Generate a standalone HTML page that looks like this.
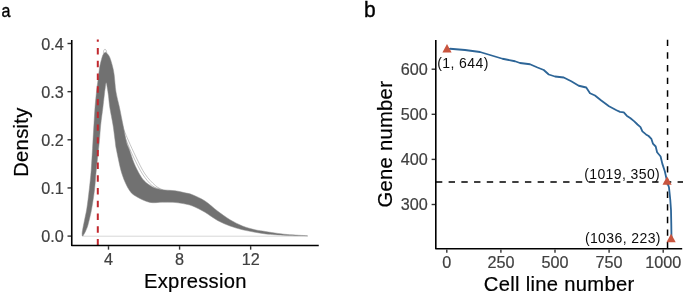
<!DOCTYPE html>
<html><head><meta charset="utf-8"><title>Figure</title>
<style>
html,body{margin:0;padding:0;background:#fff;}
svg{display:block;}
text{font-family:"Liberation Sans",sans-serif;}
.tk{font-size:16.2px;fill:#404040;stroke:#404040;stroke-width:0.2px;}
.ti{font-size:20.2px;fill:#000;letter-spacing:0.3px;stroke:#000;stroke-width:0.2px;}
.an{font-size:14px;fill:#0d0d0d;letter-spacing:0.4px;}
</style></head><body>
<svg width="685" height="296" viewBox="0 0 685 296">
<rect width="685" height="296" fill="#fff"/>
<!-- panel a -->
<text transform="translate(1.6,16.6) scale(0.87,1.03)" font-size="18.5" fill="#000" stroke="#000" stroke-width="0.35">a</text>
<line x1="82.6" y1="236.2" x2="308" y2="236.2" stroke="#c6c6c6" stroke-width="0.7"/>
<g fill="none" stroke="#8a8a8a" stroke-width="0.5">
<path d="M119.00,118.00C119.58,120.00 121.25,126.17 122.50,130.00C123.75,133.83 124.67,136.50 126.50,141.00C128.33,145.50 130.83,151.50 133.50,157.00C136.17,162.50 139.42,169.25 142.50,174.00C145.58,178.75 149.08,183.00 152.00,185.50C154.92,188.00 158.67,188.42 160.00,189.00"/><path d="M120.00,118.00C120.67,120.00 122.57,126.17 124.00,130.00C125.43,133.83 126.60,136.50 128.60,141.00C130.60,145.50 133.27,151.50 136.00,157.00C138.73,162.50 141.78,169.25 145.00,174.00C148.22,178.75 152.30,182.83 155.30,185.50C158.30,188.17 161.72,189.25 163.00,190.00"/><path d="M103.30,53.50C103.38,53.00 103.55,51.20 103.80,50.50C104.05,49.80 104.43,49.38 104.80,49.30C105.17,49.22 105.67,49.38 106.00,50.00C106.33,50.62 106.67,52.50 106.80,53.00"/>
</g>
<path d="M82.30,236.00C82.27,235.58 82.05,234.50 82.10,233.50C82.15,232.50 82.38,231.32 82.60,230.00C82.82,228.68 82.97,227.80 83.40,225.60C83.83,223.40 84.62,219.73 85.20,216.80C85.78,213.87 86.23,212.47 86.90,208.00C87.57,203.53 88.48,196.33 89.20,190.00C89.92,183.67 90.58,178.00 91.20,170.00C91.82,162.00 92.45,149.50 92.90,142.00C93.35,134.50 93.55,130.75 93.90,125.00C94.25,119.25 94.53,113.33 95.00,107.50C95.47,101.67 96.20,94.58 96.70,90.00C97.20,85.42 97.62,83.00 98.00,80.00C98.38,77.00 98.70,74.28 99.00,72.00C99.30,69.72 99.30,68.72 99.80,66.30C100.30,63.88 101.38,59.55 102.00,57.50C102.62,55.45 102.93,54.87 103.50,54.00C104.07,53.13 104.73,52.30 105.40,52.30C106.07,52.30 106.77,53.13 107.50,54.00C108.23,54.87 108.97,55.45 109.80,57.50C110.63,59.55 111.77,63.38 112.50,66.30C113.23,69.22 113.62,70.72 114.20,75.00C114.78,79.28 115.12,86.58 116.00,92.00C116.88,97.42 118.33,102.00 119.50,107.50C120.67,113.00 121.83,119.25 123.00,125.00C124.17,130.75 125.42,137.83 126.50,142.00C127.58,146.17 128.25,146.50 129.50,150.00C130.75,153.50 132.25,158.83 134.00,163.00C135.75,167.17 138.00,171.75 140.00,175.00C142.00,178.25 143.50,180.33 146.00,182.50C148.50,184.67 151.83,186.75 155.00,188.00C158.17,189.25 161.67,189.55 165.00,190.00C168.33,190.45 171.83,190.27 175.00,190.70C178.17,191.13 181.08,191.92 184.00,192.60C186.92,193.28 189.00,193.35 192.50,194.75C196.00,196.15 200.83,198.29 205.00,201.00C209.17,203.71 213.33,207.88 217.50,211.00C221.67,214.12 225.83,217.25 230.00,219.75C234.17,222.25 238.33,224.33 242.50,226.00C246.67,227.67 251.67,228.92 255.00,229.75C258.33,230.58 259.17,230.46 262.50,231.00C265.83,231.54 270.83,232.42 275.00,233.00C279.17,233.58 282.08,234.04 287.50,234.50C292.92,234.96 304.17,235.54 307.50,235.75L307.50,235.75C304.17,235.71 292.92,235.67 287.50,235.50C282.08,235.33 278.58,235.00 275.00,234.75C271.42,234.50 269.33,234.42 266.00,234.00C262.67,233.58 258.92,232.96 255.00,232.25C251.08,231.54 246.67,230.79 242.50,229.75C238.33,228.71 234.17,227.54 230.00,226.00C225.83,224.46 221.67,222.79 217.50,220.50C213.33,218.21 209.17,214.67 205.00,212.25C200.83,209.83 196.17,207.44 192.50,206.00C188.83,204.56 186.25,204.22 183.00,203.60C179.75,202.98 176.42,202.53 173.00,202.30C169.58,202.07 166.33,202.18 162.50,202.20C158.67,202.22 154.17,203.23 150.00,202.40C145.83,201.57 140.92,199.18 137.50,197.20C134.08,195.22 132.08,194.37 129.50,190.50C126.92,186.63 124.17,180.75 122.00,174.00C119.83,167.25 117.67,155.67 116.50,150.00C115.33,144.33 115.58,144.17 115.00,140.00C114.42,135.83 113.87,130.42 113.00,125.00C112.13,119.58 110.55,112.33 109.80,107.50C109.05,102.67 108.92,99.25 108.50,96.00C108.08,92.75 107.68,90.22 107.30,88.00C106.92,85.78 106.55,82.70 106.20,82.70C105.85,82.70 105.53,85.78 105.20,88.00C104.87,90.22 104.58,92.75 104.20,96.00C103.82,99.25 103.48,102.67 102.90,107.50C102.32,112.33 101.30,119.25 100.70,125.00C100.10,130.75 100.03,134.50 99.30,142.00C98.57,149.50 97.10,162.00 96.30,170.00C95.50,178.00 95.25,183.67 94.50,190.00C93.75,196.33 92.55,203.53 91.80,208.00C91.05,212.47 90.67,213.87 90.00,216.80C89.33,219.73 88.52,223.23 87.80,225.60C87.08,227.97 86.35,229.55 85.70,231.00C85.05,232.45 84.35,233.47 83.90,234.30C83.45,235.13 83.15,235.72 83.00,236.00Z" fill="#717171" fill-rule="evenodd" stroke="#8e8e8e" stroke-width="0.5" stroke-linejoin="round"/>
<line x1="97.8" y1="245.4" x2="97.8" y2="39.6" stroke="#c1282e" stroke-width="2" stroke-dasharray="6.4 6.33"/>
<path d="M71.75,40.0 V245.45 H318.75" fill="none" stroke="#000" stroke-width="1.6" stroke-linejoin="round"/>
<g stroke="#333" stroke-width="1.4">
<line x1="67.5" y1="43.5" x2="71.0" y2="43.5"/>
<line x1="67.5" y1="91.65" x2="71.0" y2="91.65"/>
<line x1="67.5" y1="139.8" x2="71.0" y2="139.8"/>
<line x1="67.5" y1="187.95" x2="71.0" y2="187.95"/>
<line x1="67.5" y1="236.1" x2="71.0" y2="236.1"/>
<line x1="108.5" y1="246.14999999999998" x2="108.5" y2="249.64999999999998"/>
<line x1="179.58" y1="246.14999999999998" x2="179.58" y2="249.64999999999998"/>
<line x1="250.65" y1="246.14999999999998" x2="250.65" y2="249.64999999999998"/>
</g>
<g class="tk" text-anchor="end">
<text x="63.7" y="50">0.4</text>
<text x="63.7" y="98">0.3</text>
<text x="63.7" y="146">0.2</text>
<text x="63.7" y="194">0.1</text>
<text x="63.7" y="242">0.0</text>
</g>
<g class="tk" text-anchor="middle">
<text x="108.5" y="265">4</text>
<text x="179.58" y="265">8</text>
<text x="250.65" y="265">12</text>
</g>
<text class="ti" text-anchor="middle" x="195.4" y="288">Expression</text>
<text class="ti" text-anchor="middle" transform="translate(28.4,142.1) rotate(-90)">Density</text>
<!-- panel b -->
<text transform="translate(363.9,16.7) scale(1,1.08)" font-size="21" fill="#000" stroke="#000" stroke-width="0.35">b</text>
<line x1="435.9" y1="182.0" x2="683" y2="182.0" stroke="#000" stroke-width="1.5" stroke-dasharray="6.4 6.32"/>
<line x1="667.55" y1="39.7" x2="667.55" y2="248.7" stroke="#000" stroke-width="1.5" stroke-dasharray="6.4 6.25"/>
<path d="M447.00,49.50L450.00,48.75L465.00,50.00L480.00,52.00L490.00,55.00L502.50,58.75L515.00,61.25L520.00,63.00L530.00,64.25L537.50,67.50L543.75,70.00L548.75,74.50L555.00,76.50L563.75,77.50L571.25,81.25L578.75,85.75L586.25,87.50L590.00,93.25L595.00,95.50L601.25,100.50L609.00,106.25L616.50,110.20L620.00,111.90L623.80,112.40L626.70,115.70L630.50,118.30L634.30,121.40L637.50,124.50L640.50,127.10L642.40,131.40L646.00,134.40L648.60,136.00L651.40,138.90L652.90,143.60L655.70,146.50L657.10,152.20L660.60,156.50L662.30,163.60L664.80,171.25L667.00,181.00L669.00,187.50L670.30,200.00L671.00,210.00L671.30,225.00L671.50,239.00" fill="none" stroke="#2d6597" stroke-width="1.8" stroke-linejoin="round"/>
<path d="M447.00,43.98 L442.40,52.38 L451.60,52.38 Z" fill="#c9553f"/>
<path d="M667.10,176.38 L662.50,184.78 L671.70,184.78 Z" fill="#c9553f"/>
<path d="M671.10,233.78 L666.50,242.18 L675.70,242.18 Z" fill="#c9553f"/>
<path d="M435.8,40.0 V248.75 H682.2" fill="none" stroke="#000" stroke-width="1.6" stroke-linejoin="round"/>
<g stroke="#333" stroke-width="1.4">
<line x1="431.6" y1="69.2" x2="435.1" y2="69.2"/>
<line x1="431.6" y1="114.3" x2="435.1" y2="114.3"/>
<line x1="431.6" y1="159.4" x2="435.1" y2="159.4"/>
<line x1="431.6" y1="204.5" x2="435.1" y2="204.5"/>
<line x1="446.8" y1="249.45" x2="446.8" y2="252.75"/>
<line x1="500.9" y1="249.45" x2="500.9" y2="252.75"/>
<line x1="555.0" y1="249.45" x2="555.0" y2="252.75"/>
<line x1="609.1" y1="249.45" x2="609.1" y2="252.75"/>
<line x1="663.2" y1="249.45" x2="663.2" y2="252.75"/>
</g>
<g class="tk" text-anchor="end">
<text x="427.7" y="75">600</text>
<text x="427.7" y="120">500</text>
<text x="427.7" y="165">400</text>
<text x="427.7" y="210">300</text>
</g>
<g class="tk" text-anchor="middle">
<text x="446.8" y="268">0</text>
<text x="500.9" y="268">250</text>
<text x="555.0" y="268">500</text>
<text x="609.1" y="268">750</text>
<text x="663.2" y="268">1000</text>
</g>
<text class="ti" text-anchor="middle" x="559.2" y="291">Cell line number</text>
<text class="ti" text-anchor="middle" transform="translate(392,144.2) rotate(-90)">Gene number</text>
<text class="an" x="437.3" y="68">(1, 644)</text>
<text class="an" text-anchor="end" x="660.2" y="179">(1019, 350)</text>
<text class="an" text-anchor="end" x="660.9" y="243">(1036, 223)</text>
</svg>
</body></html>
